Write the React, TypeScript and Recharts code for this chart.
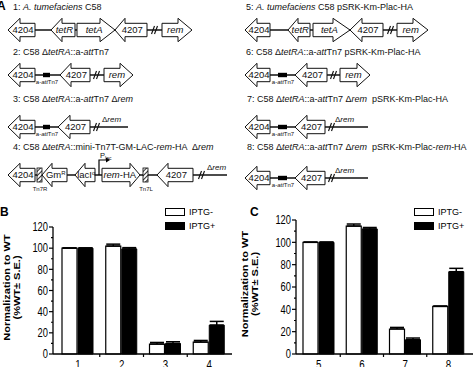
import React from "react";
import { BarChart, Bar, XAxis, YAxis, ErrorBar, Legend } from "recharts";

// ---- panel B / C values ----
const groupsB = ["1", "2", "3", "4"];
const minusB = [100, 102, 9.4, 11.3];
const minusErrB = [0.3, 1.8, 1.5, 1.5];
const plusB = [100, 99.3, 10, 27.3];
const plusErrB = [0.3, 1.2, 1.6, 3.5];

const groupsC = ["5", "6", "7", "8"];
const minusC = [100, 114.6, 22.4, 42.6];
const minusErrC = [0.3, 1.8, 1.4, 0.4];
const plusC = [100, 112, 12.8, 73.7];
const plusErrC = [0.3, 1.3, 1.5, 3];

const yTicks = [0, 10, 20, 30, 40, 50, 60, 70, 80, 90, 100, 110, 120];
const legendNames = ["IPTG-", "IPTG+"];

const FONT = '"Liberation Sans", Arial, Helvetica, sans-serif';

const buildData = (
  groups: string[],
  minus: number[],
  minusErr: number[],
  plus: number[],
  plusErr: number[]
) =>
  groups.map((g, i) => ({
    name: g,
    minus: minus[i],
    plus: plus[i],
    minusErr: [0, minusErr[i]],
    plusErr: [0, plusErr[i]],
  }));

const dataB = buildData(groupsB, minusB, minusErrB, plusB, plusErrB);
const dataC = buildData(groupsC, minusC, minusErrC, plusC, plusErrC);

function YTick(props: any) {
  const { x, y, payload } = props;
  const v = payload.value;
  const major = v % 20 === 0;
  return (
    <g>
      <line x1={x - (major ? 4 : 2)} x2={x} y1={y} y2={y} stroke="#000" strokeWidth={1.2} />
      {major && (
        <text
          x={x - 5}
          y={y}
          dy="0.36em"
          textAnchor="end"
          fontSize={12}
          fontFamily={FONT}
          fill="#000"
          textLength={String(v).length * 5.2}
          lengthAdjust="spacingAndGlyphs"
        >
          {v}
        </text>
      )}
    </g>
  );
}

function XTick(props: any) {
  const { x, y, payload, index } = props;
  const off = payload.offset ?? 22;
  return (
    <g>
      {index > 0 && (
        <line x1={x - off} x2={x - off} y1={y} y2={y + 3} stroke="#000" strokeWidth={1.2} />
      )}
      <text
        x={x}
        y={y + 6}
        dy="0.71em"
        textAnchor="middle"
        fontSize={12}
        fontFamily={FONT}
        fill="#000"
        textLength={5.4}
        lengthAdjust="spacingAndGlyphs"
      >
        {payload.value}
      </text>
    </g>
  );
}

const yTitle = (x1: number) => (p: any) => {
  const vb = p.viewBox || { y: 0, height: 0 };
  const cy = vb.y + vb.height / 2 - 3;
  const s = 0.88;
  return (
    <g transform={`translate(0, ${cy}) scale(${s}, 1) rotate(-90)`}>
      <text x={0} y={(x1 + 3.5) / s} textAnchor="middle" fontSize={11} fontWeight="bold" fontFamily={FONT} fill="#000">
        Normalization to WT
      </text>
      <text x={0} y={(x1 + 13.5) / s} textAnchor="middle" fontSize={11} fontWeight="bold" fontFamily={FONT} fill="#000">
        (%WT± S.E.)
      </text>
    </g>
  );
};

const renderLegend = () => (
  <div style={{ fontFamily: FONT, fontSize: 9, color: "#000" }}>
    {legendNames.map((n, i) => (
      <div key={n} style={{ display: "flex", alignItems: "center", height: 14 }}>
        <span
          style={{
            display: "inline-block",
            boxSizing: "border-box",
            width: 20,
            height: 8,
            border: "1.3px solid #000",
            background: i ? "#000" : "#fff",
            marginRight: 4,
          }}
        />
        <span>{n}</span>
      </div>
    ))}
  </div>
);

interface PanelProps {
  data: any[];
  width: number;
  top: number;
  right: number;
  yWidth: number;
  padding: { left: number; right: number };
  titleX: number;
  legendLeft: number;
}

function BarPanel({ data, width, top, right, yWidth, padding, titleX, legendLeft }: PanelProps) {
  return (
    <BarChart
      width={width}
      height={172}
      data={data}
      margin={{ top, right, bottom: 0, left: 0 }}
      barGap={1}
      barSize={15}
    >
      <XAxis
        dataKey="name"
        type="category"
        height={13}
        interval={0}
        tickLine={false}
        tickSize={0}
        tickMargin={0}
        padding={padding}
        axisLine={{ stroke: "#000", strokeWidth: 1.3 }}
        tick={(p: any) => <XTick {...p} />}
      />
      <YAxis
        domain={[0, 120]}
        ticks={yTicks}
        interval={0}
        width={yWidth}
        tickLine={false}
        tickSize={0}
        tickMargin={0}
        axisLine={{ stroke: "#000", strokeWidth: 1.3 }}
        tick={(p: any) => <YTick {...p} />}
        label={{ content: yTitle(titleX) }}
      />
      <Legend
        layout="vertical"
        align="center"
        verticalAlign="middle"
        content={renderLegend}
        wrapperStyle={{ left: legendLeft, top: 10, width: 70, height: 28 }}
      />
      <Bar dataKey="minus" name={legendNames[0]} fill="#fff" stroke="#000" strokeWidth={1.2} isAnimationActive={false}>
        <ErrorBar dataKey="minusErr" direction="y" width={7} stroke="#000" strokeWidth={1.5} />
      </Bar>
      <Bar dataKey="plus" name={legendNames[1]} fill="#000" stroke="#000" strokeWidth={1} isAnimationActive={false}>
        <ErrorBar dataKey="plusErr" direction="y" width={7} stroke="#000" strokeWidth={1.5} />
      </Bar>
    </BarChart>
  );
}

// ---- panel A: construct diagrams ----
type Part = (string | number)[];

const rowsA: { cy: number; parts: Part[] }[] = [
  { cy: 30, parts: [["line", 35, 162], ["gene", 8, 20, 35, "4204"], ["gene", 51, 62, 75, "tetR"], ["gene", 115, 100, 77, "tetA"], ["gene", 115, 125, 147, "4207"], ["gene", 192, 178, 162, "rem"], ["brk", 154]] },
  { cy: 75, parts: [["line", 35, 104], ["box", 43, 50], ["att", 47], ["gene", 8, 20, 35, "4204"], ["gene", 60, 71, 90, "4207"], ["gene", 133, 120, 104, "rem"], ["brk", 96]] },
  { cy: 127, parts: [["line", 35, 128], ["box", 43, 50], ["att", 47], ["gene", 8, 20, 35, "4204"], ["gene", 58, 70, 90, "4207"], ["brk", 96], ["drem", 102]] },
  { cy: 175, parts: [["line", 35, 227], ["gene", 8, 20, 35, "4204"], ["hatch", 37, "Tn7R"], ["gene", 42, 52, 67, "GmR"], ["gene", 75, 85, 95, "lacIq"], ["prom", 99], ["gene", 140, 130, 102, "remHA"], ["hatch", 143, "Tn7L"], ["gene", 157, 168, 193, "4207"], ["brk", 201], ["drem", 207]] },
  { cy: 30, parts: [["line", 270, 397], ["gene", 245, 257, 270, "4204"], ["gene", 288, 298, 310, "tetR"], ["gene", 350, 333, 313, "tetA"], ["gene", 350, 362, 383, "4207"], ["gene", 428, 413, 397, "rem"], ["brk", 390]] },
  { cy: 75, parts: [["line", 270, 340], ["box", 278, 287], ["att", 283], ["gene", 245, 257, 270, "4204"], ["gene", 295, 307, 327, "4207"], ["gene", 370, 357, 340, "rem"], ["brk", 333]] },
  { cy: 127, parts: [["line", 270, 368], ["box", 278, 287], ["att", 283], ["gene", 245, 257, 270, "4204"], ["gene", 295, 307, 325, "4207"], ["brk", 331], ["drem", 335]] },
  { cy: 178, parts: [["line", 270, 368], ["box", 278, 287], ["att", 283], ["gene", 245, 257, 270, "4204"], ["gene", 295, 307, 325, "4207"], ["brk", 331], ["drem", 335]] },
];

const I = ({ children }: { children: React.ReactNode }) => <tspan fontStyle="italic">{children}</tspan>;

const titlesA: { x: number; y: number; node: React.ReactNode }[] = [
  { x: 13, y: 9.5, node: <>1: <I>A. tumefaciens</I> C58</> },
  { x: 13, y: 54.5, node: <>2: C58 Δ<I>tetRA</I>::a-<I>att</I>Tn7</> },
  { x: 13, y: 101.5, node: <>3: C58 Δ<I>tetRA</I>::a-<I>att</I>Tn7 Δ<I>rem</I></> },
  { x: 13, y: 149.5, node: <>4: C58 Δ<I>tetRA</I>::mini-Tn7T-GM-LAC-<I>rem</I>-HA  Δ<I>rem</I></> },
  { x: 246, y: 9.5, node: <>5: <I>A. tumefaciens</I> C58 pSRK-Km-Plac-HA</> },
  { x: 246, y: 54.5, node: <>6: C58 Δ<I>tetRA</I>::a-<I>att</I>Tn7 pSRK-Km-Plac-HA</> },
  { x: 247, y: 101.5, node: <>7: C58 Δ<I>tetRA</I>::a-<I>att</I>Tn7 Δ<I>rem</I>  pSRK-Km-Plac-HA</> },
  { x: 247, y: 150, node: <>8: C58 Δ<I>tetRA</I>::a-<I>att</I>Tn7 Δ<I>rem</I>  pSRK-Km-Plac-<I>rem</I>-HA</> },
];

function geneLabel(key: string) {
  switch (key) {
    case "tetR":
    case "tetA":
    case "rem":
      return <I>{key}</I>;
    case "GmR":
      return <>Gm<tspan fontSize={6} dy={-3.5}>R</tspan></>;
    case "lacIq":
      return <>lacI<tspan fontSize={6} dy={-3.5}>q</tspan></>;
    case "remHA":
      return <><I>rem</I>-HA</>;
    default:
      return key;
  }
}

function PanelA() {
  const stroke = "#111";
  return (
    <svg width={474} height={195} style={{ position: "absolute", left: 0, top: 0 }} fontFamily={FONT}>
      <defs>
        <pattern id="hatch" width="3" height="3" patternUnits="userSpaceOnUse" patternTransform="rotate(45)">
          <rect width="3" height="3" fill="#fff" />
          <line x1="0" y1="0" x2="0" y2="3" stroke="#000" strokeWidth="1.6" />
        </pattern>
      </defs>
      <text x={-3} y={10} fontSize={12} fontWeight="bold" fill="#000">A</text>
      {titlesA.map((t, i) => (
        <text key={i} x={t.x} y={t.y} fontSize={9} fill="#111" style={{ whiteSpace: "pre" }}>
          {t.node}
        </text>
      ))}
      {rowsA.map((row, ri) => {
        const cy = row.cy;
        return (
          <g key={ri}>
            {row.parts.map((p, pi) => {
              const k = p[0];
              if (k === "line")
                return <line key={pi} x1={p[1] as number} x2={p[2] as number} y1={cy} y2={cy} stroke={stroke} strokeWidth={1.3} />;
              if (k === "box")
                return <rect key={pi} x={p[1] as number} y={cy - 2.2} width={(p[2] as number) - (p[1] as number)} height={4.4} fill="#000" />;
              if (k === "att")
                return (
                  <text key={pi} x={p[1] as number} y={cy + 8.5} fontSize={6} textAnchor="middle" fill="#111">
                    a-<I>att</I>Tn7
                  </text>
                );
              if (k === "brk") {
                const x = p[1] as number;
                return (
                  <g key={pi} stroke={stroke} strokeWidth={1.2}>
                    <line x1={x - 2.5} y1={cy + 4} x2={x + 0.5} y2={cy - 4} />
                    <line x1={x + 0.5} y1={cy + 4} x2={x + 3.5} y2={cy - 4} />
                  </g>
                );
              }
              if (k === "drem")
                return (
                  <text key={pi} x={p[1] as number} y={cy - 5.5} fontSize={8} fill="#111">
                    Δ<I>rem</I>
                  </text>
                );
              if (k === "hatch") {
                const x = p[1] as number;
                return (
                  <g key={pi}>
                    <rect x={x} y={cy - 7} width={5} height={14} fill="url(#hatch)" stroke="#000" strokeWidth={0.8} />
                    <text x={x + 3} y={cy + 16} fontSize={6} textAnchor="middle" fill="#111">{p[2]}</text>
                  </g>
                );
              }
              if (k === "prom") {
                const x = p[1] as number;
                return (
                  <g key={pi}>
                    <polyline points={`${x},${cy} ${x},${cy - 15} ${x + 8},${cy - 15}`} fill="none" stroke="#000" strokeWidth={1.2} />
                    <polygon points={`${x + 11},${cy - 15} ${x + 7},${cy - 17.5} ${x + 7},${cy - 12.5}`} fill="#000" />
                    <text x={x + 1} y={cy - 17.5} fontSize={7.5} fill="#111">
                      P<tspan fontSize={5} dy={2}>lac</tspan>
                    </text>
                  </g>
                );
              }
              // gene arrow: tip, head base, tail
              const tip = p[1] as number;
              const head = p[2] as number;
              const end = p[3] as number;
              const H = 11.7;
              const B = 6.7;
              const pts = [
                [tip, cy], [head, cy - H], [head, cy - B], [end, cy - B],
                [end, cy + B], [head, cy + B], [head, cy + H],
              ].map((q) => q.join(",")).join(" ");
              const mid = (tip + end) / 2;
              const lx = mid + 0.25 * ((head + end) / 2 - mid);
              return (
                <g key={pi}>
                  <polygon points={pts} fill="#fff" stroke={stroke} strokeWidth={1} strokeLinejoin="miter" />
                  <text x={lx} y={cy + 3.4} fontSize={9.5} textAnchor="middle" fill="#111">
                    {geneLabel(p[4] as string)}
                  </text>
                </g>
              );
            })}
          </g>
        );
      })}
    </svg>
  );
}

export default function App() {
  return (
    <div
      style={{
        position: "absolute",
        left: 0,
        top: 0,
        width: 474,
        height: 367,
        background: "#fff",
        overflow: "hidden",
        fontFamily: FONT,
      }}
    >
      <PanelA />
      <div style={{ position: "absolute", left: 0, top: 195 }}>
        <BarPanel
          data={dataB}
          width={240}
          top={32}
          right={8}
          yWidth={53}
          padding={{ left: 3, right: 1 }}
          titleX={7}
          legendLeft={165}
        />
      </div>
      <div style={{ position: "absolute", left: 235, top: 195 }}>
        <BarPanel
          data={dataC}
          width={239}
          top={25}
          right={1}
          yWidth={61}
          padding={{ left: 1, right: 3 }}
          titleX={10}
          legendLeft={179}
        />
      </div>
      <svg width={474} height={367} style={{ position: "absolute", left: 0, top: 0, pointerEvents: "none" }}>
        <text x={0} y={216} fontSize={12} fontWeight="bold" fontFamily={FONT} fill="#000">B</text>
        <text x={250} y={216} fontSize={12} fontWeight="bold" fontFamily={FONT} fill="#000">C</text>
      </svg>
    </div>
  );
}
